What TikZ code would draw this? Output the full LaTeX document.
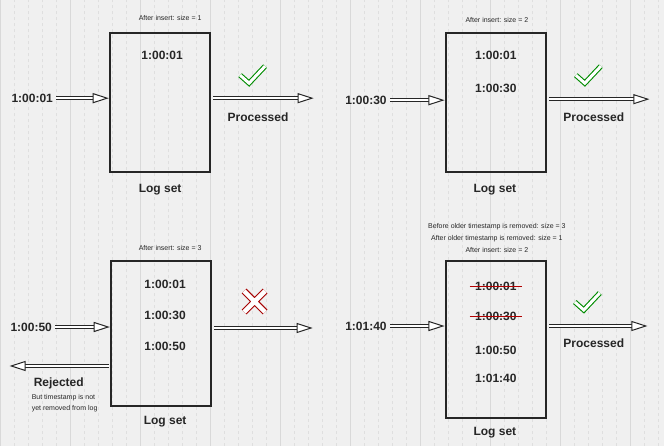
\documentclass[tikz,border=0pt]{standalone}
\usepackage{fontspec}
\setmainfont{Liberation Sans}
\usetikzlibrary{arrows.meta,calc}
\newcommand\myarrow[2]{%
  \draw[dblshaft] (#1) -- ($(#2)!14pt!(#1)$);
  \draw[arrhead] ($($(#2)!14pt!(#1)$)!4.5pt!90:(#2)$) -- (#2) -- ($($(#2)!14pt!(#1)$)!4.5pt!-90:(#2)$) -- cycle;}
\begin{document}
\begin{tikzpicture}[x=1pt,y=-1pt,
  logbox/.style={draw=black!85,line width=1.6pt,fill=none},
  ts/.style={font=\bfseries\fontsize{12}{13}\selectfont,text=black!85},
  lbl/.style={font=\bfseries\fontsize{12}{13}\selectfont,text=black!85},
  ttl/.style={font=\fontsize{7}{8}\selectfont,text=black!85},
  dblshaft/.style={draw=black!85,double=white,double distance=2.6pt,line width=1pt},
  arrhead/.style={draw=black!85,fill=white,line width=1pt,line join=miter},
  okmark/.style={draw=green!55!black,double=white,double distance=3pt,line width=1.1pt,line join=miter},
  nomark/.style={draw=red!65!black,double=white,double distance=4.5pt,line width=1.1pt},
  strike/.style={draw=red!70!black,line width=1pt}]
\fill[gray!12] (0,0) rectangle (664,446);
\draw[gray!25,line width=0.3pt,dashed] (0,0) grid[step=14] (664,446);
\draw[gray!30,line width=0.5pt] (0,0) grid[step=70] (664,446);
\useasboundingbox (0,0) rectangle (664,446);
% panel 1
\node[ttl] (t1) at (170,18) {After insert: size = 1};
\draw[logbox] (110,33) rectangle (210,172);
\coordinate (b1w) at (107,98); \coordinate (b1e) at (213,98);
\node[ts] (p1a) at (162,55) {1:00:01};
\node[lbl] (in1) at (32,98) {1:00:01};
\coordinate (o1) at (312,98);
\myarrow{in1.east}{b1w}
\myarrow{b1e}{o1}
\draw[okmark] (240,75) -- (249,83) -- (265,66);
\node[lbl] (pr1) at (258,117) {Processed};
\node[lbl] (ls1) at (160,190) {Log set};
% panel 2
\node[ttl] (t2) at (497,20) {After insert: size = 2};
\draw[logbox] (446,33) rectangle (546,172);
\coordinate (b2w) at (443,100); \coordinate (b2e) at (549,99);
\node[ts] (p2a) at (496,55) {1:00:01};
\node[ts] (p2b) at (496,88) {1:00:30};
\node[lbl] (in2) at (366,100) {1:00:30};
\coordinate (o2) at (648,99);
\myarrow{in2.east}{b2w}
\myarrow{b2e}{o2}
\draw[okmark] (576,75) -- (585,83) -- (601,66);
\node[lbl] (pr2) at (594,117) {Processed};
\node[lbl] (ls2) at (495,190) {Log set};
% panel 3
\node[ttl] (t3) at (170,248) {After insert: size = 3};
\draw[logbox] (111,261) rectangle (211,406);
\coordinate (b3w) at (108,327); \coordinate (b3e) at (214,328);
\coordinate (b3r) at (109,366);
\node[ts] (p3a) at (165,284) {1:00:01};
\node[ts] (p3b) at (165,315) {1:00:30};
\node[ts] (p3c) at (165,346) {1:00:50};
\node[lbl] (in3) at (31,327) {1:00:50};
\coordinate (o3) at (311,328);
\coordinate (rej) at (11,366);
\myarrow{in3.east}{b3w}
\myarrow{b3e}{o3}
\myarrow{b3r}{rej}
\draw[nomark] (244,291) -- (265,312) (265,291) -- (244,312);
\node[lbl,anchor=west] (rj) at (30,383) {Rejected};
\node[ttl,anchor=north west,align=left,font=\fontsize{7}{10.5}\selectfont] (rjs) at (28,391) {But timestamp is not\\yet removed from log};
\node[lbl] (ls3) at (165,422) {Log set};
% panel 4
\node[ttl,align=center,font=\fontsize{7}{12}\selectfont] (t4) at (497,238) {Before older timestamp is removed: size = 3\\After older timestamp is removed: size = 1\\After insert: size = 2};
\draw[logbox] (446,261) rectangle (546,418);
\coordinate (b4w) at (443,326); \coordinate (b4e) at (549,326);
\node[ts] (p4a) at (496,286) {1:00:01};
\node[ts] (p4b) at (496,316) {1:00:30};
\node[ts] (p4c) at (496,350) {1:00:50};
\node[ts] (p4d) at (496,378) {1:01:40};
\draw[strike] ([xshift=-2pt]p4a.west) -- ([xshift=2pt]p4a.east);
\draw[strike] ([xshift=-2pt]p4b.west) -- ([xshift=2pt]p4b.east);
\node[lbl] (in4) at (366,326) {1:01:40};
\coordinate (o4) at (646,326);
\myarrow{in4.east}{b4w}
\myarrow{b4e}{o4}
\draw[okmark] (575,302) -- (584,310) -- (600,293);
\node[lbl] (pr4) at (594,343) {Processed};
\node[lbl] (ls4) at (495,433) {Log set};
\end{tikzpicture}
\end{document}
